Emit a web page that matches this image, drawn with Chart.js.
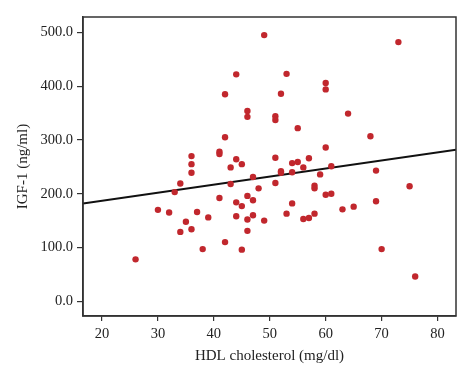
<!DOCTYPE html>
<html>
<head>
<meta charset="utf-8">
<script src="https://cdn.jsdelivr.net/npm/chart.js@4/dist/chart.umd.min.js"></script>
<style>
  html, body { margin: 0; padding: 0; background: #fff; }
  #wrap { width: 474px; height: 381px; }
</style>
</head>
<body>
<div id="wrap"><canvas id="chart"></canvas></div>
<script>
// Data
const hdl = [26, 30, 32, 33, 34, 34, 35, 36, 36, 36, 36, 37, 38, 39, 41, 41, 41, 42, 42, 42,
             43, 43, 44, 44, 44, 44, 45, 45, 45, 46, 46, 46, 46, 46, 47, 47, 47, 48, 49, 49,
             51, 51, 51, 51, 52, 52, 52, 53, 53, 54, 54, 54, 55, 55, 56, 56, 57, 57, 58, 58,
             58, 59, 60, 60, 60, 60, 61, 61, 63, 64, 65, 68, 69, 69, 70, 73, 75, 76];
const igf = [78, 170, 165, 203, 219, 129, 148, 270, 255, 239, 134, 166, 97, 156, 278, 274, 192, 385, 305, 110,
             249, 218, 422, 264, 184, 158, 255, 177, 96, 354, 343, 196, 152, 131, 231, 188, 160, 210, 495, 150,
             344, 337, 267, 220, 386, 242, 239, 423, 163, 257, 240, 182, 322, 259, 249, 153, 266, 155, 215, 210,
             163, 236, 406, 394, 286, 198, 251, 200, 171, 349, 176, 307, 243, 186, 97, 482, 214, 46];

// fitted line, two ends as drawn
const fitX = [16.6, 83.3];
const fitY = [182, 282];

const xTicks = [20, 30, 40, 50, 60, 70, 80];
const yTicks = [0, 100, 200, 300, 400, 500];

const serif = 'Liberation Serif';
const ink = '#333';

const boxPlugin = {
    id: 'box',
    afterDatasetsDraw(chart) {
        const { ctx, chartArea: a } = chart;
        ctx.save();
        ctx.strokeStyle = ink;
        ctx.lineWidth = 1.5;
        ctx.strokeRect(a.left, a.top, a.right - a.left, a.bottom - a.top);
        ctx.restore();
    }
};

new Chart(document.getElementById('chart'), {
    type: 'scatter',
    data: {
        datasets: [
            {
                data: hdl.map((x, i) => ({ x, y: igf[i] })),
                backgroundColor: '#c1272d',
                borderWidth: 0,
                pointRadius: 3.2
            },
            {
                data: fitX.map((x, i) => ({ x, y: fitY[i] })),
                showLine: true,
                borderColor: '#111',
                borderWidth: 2,
                pointRadius: 0
            }
        ]
    },
    options: {
        responsive: true,
        maintainAspectRatio: false,
        animation: false,
        layout: { padding: { top: 17, right: 18, left: 0, bottom: 0 } },
        plugins: { legend: { display: false }, tooltip: { enabled: false } },
        scales: {
            x: {
                type: 'linear',
                min: 16.6,
                max: 83.3,
                afterBuildTicks: s => { s.ticks = xTicks.map(v => ({ value: v })); },
                afterFit: s => { s.height = 65; },
                grid: { drawOnChartArea: false, drawTicks: true, tickLength: 5, color: ink, lineWidth: 1.2 },
                border: { color: ink, width: 1.5 },
                ticks: { color: '#222', padding: 4, maxRotation: 0, font: { family: serif, size: 14.5 } },
                title: { display: true, text: 'HDL cholesterol (mg/dl)', color: '#222',
                         padding: { top: 0, bottom: 16 }, font: { family: serif, size: 15 } }
            },
            y: {
                type: 'linear',
                min: -27.4,
                max: 528.7,
                afterBuildTicks: s => { s.ticks = yTicks.map(v => ({ value: v })); },
                afterFit: s => { s.width = 83; },
                grid: { drawOnChartArea: false, drawTicks: true, tickLength: 6, color: ink, lineWidth: 1.2 },
                border: { color: ink, width: 1.5 },
                ticks: { color: '#222', padding: 4, font: { family: serif, size: 14.5 },
                         callback: v => v.toFixed(1) },
                title: { display: true, text: 'IGF-1 (ng/ml)', color: '#222',
                         padding: { top: 14, bottom: 0 }, font: { family: serif, size: 15 } }
            }
        }
    },
    plugins: [boxPlugin]
});
</script>
</body>
</html>
